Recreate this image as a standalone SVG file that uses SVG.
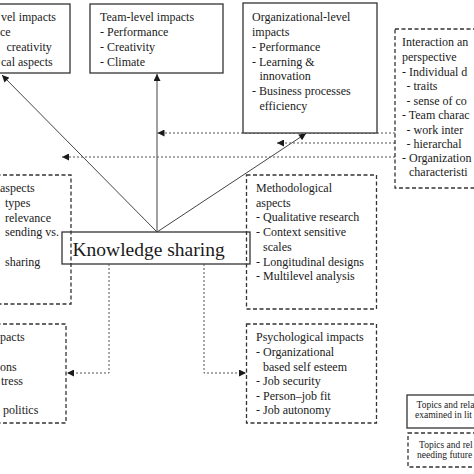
<svg xmlns="http://www.w3.org/2000/svg" width="474" height="474" viewBox="0 0 474 474">
<style>
text{font-family:"Liberation Serif","Times New Roman",serif;font-size:12px;fill:#1a1a1a}
.solid{fill:#fff;stroke:#333;stroke-width:1.3}
.dash{fill:none;stroke:#333;stroke-width:1.3;stroke-dasharray:4 2.5}
.line{fill:none;stroke:#444;stroke-width:1}
.dot{fill:none;stroke:#555;stroke-width:1;stroke-dasharray:2 2}
.big{font-size:19.5px}
.small{font-size:9.5px}
</style>
<defs>
<marker id="ah" viewBox="0 0 10 10" refX="10" refY="5" markerWidth="8" markerHeight="7" markerUnits="userSpaceOnUse" orient="auto">
<path d="M0,0 L10,5 L0,10 z" fill="#1a1a1a"/>
</marker>
</defs>
<rect width="474" height="474" fill="#fff"/>

<g id="ks">
<rect class="solid" x="62" y="232" width="188" height="32"/>
<text class="big" x="72.5" y="256">Knowledge sharing</text>
</g>

<g id="connectors">
<path class="line" d="M157,232 L157,74" marker-end="url(#ah)"/>
<path class="line" d="M157,232 L2,75" marker-end="url(#ah)"/>
<path class="line" d="M157,232 L306,133.5" marker-end="url(#ah)"/>
<path class="dot" d="M395,133 L157.5,133" marker-end="url(#ah)"/>
<path class="dot" d="M395,143 L277,143" marker-end="url(#ah)"/>
<path class="dot" d="M395,157 L62,157" marker-end="url(#ah)"/>
<path class="dot" d="M109,264 L109,373 L67,373" marker-end="url(#ah)"/>
<path class="dot" d="M204,264 L204,373 L246,373" marker-end="url(#ah)"/>
</g>

<g id="individual">
<rect class="solid" x="-10" y="4" width="80" height="69"/>
<text x="1" y="21">vel impacts</text>
<text x="0" y="36">ce</text>
<text x="6.5" y="51">creativity</text>
<text x="1" y="66">cal aspects</text>
</g>

<g id="team">
<rect class="solid" x="90" y="4" width="133" height="69"/>
<text x="100" y="21">Team-level impacts</text>
<text x="100" y="36">- Performance</text>
<text x="100" y="51">- Creativity</text>
<text x="100" y="66">- Climate</text>
</g>

<g id="organizational">
<rect class="solid" x="243" y="3" width="134" height="130"/>
<text x="252" y="21">Organizational-level</text>
<text x="252" y="36">impacts</text>
<text x="252" y="51">- Performance</text>
<text x="252" y="65.5">- Learning &amp;</text>
<text x="259.5" y="80">innovation</text>
<text x="252" y="95">- Business processes</text>
<text x="259.5" y="110">efficiency</text>
</g>

<g id="interaction">
<rect class="dash" x="395" y="29" width="100" height="159"/>
<text x="402" y="46">Interaction an</text>
<text x="402" y="61">perspective</text>
<text x="402" y="75.5">- Individual d</text>
<text x="406.5" y="90">- traits</text>
<text x="406.5" y="104.5">- sense of co</text>
<text x="402" y="119">- Team charac</text>
<text x="406.5" y="133.5">- work inter</text>
<text x="406.5" y="148">- hierarchal</text>
<text x="402" y="162">- Organization</text>
<text x="409" y="176">characteristi</text>
</g>

<g id="content">
<rect class="dash" x="-10" y="175" width="81" height="129"/>
<text x="0" y="192">aspects</text>
<text x="5" y="207">types</text>
<text x="5" y="222">relevance</text>
<text x="5" y="236">sending vs.</text>
<text x="5" y="266">sharing</text>
</g>

<g id="methodological">
<rect class="dash" x="246.5" y="175" width="130" height="134"/>
<text x="256" y="192">Methodological</text>
<text x="256" y="206.7">aspects</text>
<text x="256" y="221.4">- Qualitative research</text>
<text x="256" y="236.1">- Context sensitive</text>
<text x="263" y="250.8">scales</text>
<text x="256" y="265.5">- Longitudinal designs</text>
<text x="256" y="280.2">- Multilevel analysis</text>
</g>

<g id="social">
<rect class="dash" x="-10" y="324" width="76" height="99"/>
<text x="0" y="341">pacts</text>
<text x="0" y="370.5">ons</text>
<text x="1" y="385">tress</text>
<text x="3" y="414">politics</text>
</g>

<g id="psychological">
<rect class="dash" x="246.5" y="324" width="130" height="99"/>
<text x="256" y="341">Psychological impacts</text>
<text x="256" y="356">- Organizational</text>
<text x="263" y="370.5">based self esteem</text>
<text x="256" y="385">- Job security</text>
<text x="256" y="400">- Person–job fit</text>
<text x="256" y="414">- Job autonomy</text>
</g>

<g id="legend-examined">
<rect class="solid" x="407" y="395" width="80" height="33"/>
<text class="small" x="416.5" y="408">Topics and rela</text>
<text class="small" x="415" y="418">examined in lit</text>
</g>

<g id="legend-future">
<rect class="dash" x="408" y="433" width="80" height="34"/>
<text class="small" x="419" y="448">Topics and rel</text>
<text class="small" x="417" y="458">needing future</text>
</g>
</svg>
